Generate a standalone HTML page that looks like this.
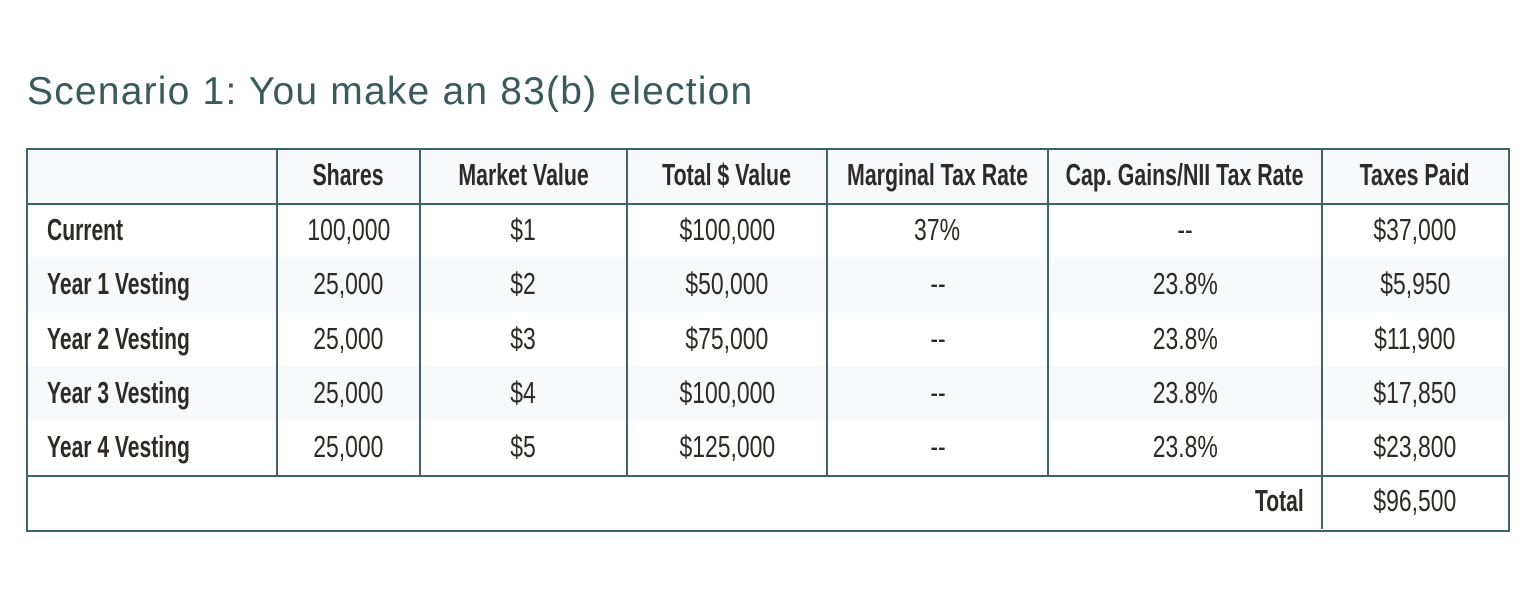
<!DOCTYPE html>
<html><head><meta charset="utf-8"><style>
body{margin:0;width:1536px;height:614px;background:#fff;position:relative;overflow:hidden;font-family:"Liberation Sans",sans-serif;color:#2e2a28}
.t{position:absolute;left:27px;top:70px;font-family:"Liberation Sans",sans-serif;font-size:39px;color:#3a5a5c;letter-spacing:1.2px;white-space:nowrap}
.c{position:absolute;text-align:center;font-size:27px;white-space:nowrap;width:400px}
.c span{display:inline-block;transform:scale(0.85,1.12)}
.b span{transform:scale(0.79,1.12)}
.b{font-weight:bold}
.l{position:absolute;font-size:27px;font-weight:bold;white-space:nowrap;transform-origin:0 50%;transform:scale(0.78,1.12)}
.v{position:absolute;top:149px;height:327px;width:2px;background:#3d6468}
</style></head><body>
<div class="t">Scenario 1: You make an 83(b) election</div>
<div style="position:absolute;left:26px;top:148px;width:1480px;height:380px;border:2px solid #3d6468"></div>
<div style="position:absolute;left:28px;top:150px;width:1478px;height:53px;background:#f7f9fa"></div>
<div style="position:absolute;left:28px;top:257px;width:1478px;height:55px;background:#f7f9fa"></div>
<div style="position:absolute;left:28px;top:366px;width:1478px;height:55px;background:#f7f9fa"></div>
<div style="position:absolute;left:27px;top:203px;width:1481px;height:2px;background:#3d6468"></div>
<div style="position:absolute;left:27px;top:475px;width:1481px;height:2px;background:#3d6468"></div>
<div class="v" style="left:276px"></div><div class="v" style="left:419px"></div><div class="v" style="left:626px"></div><div class="v" style="left:826px"></div><div class="v" style="left:1047px"></div>
<div style="position:absolute;left:1321px;top:149px;height:380px;width:2px;background:#3d6468"></div>
<div id="rows"></div>
<script>
var cols=[[277,420],[420,627],[627,827],[827,1048],[1048,1322],[1322,1508]];
var rows=[
 [176,null,["Shares","Market Value","Total $ Value","Marginal Tax Rate","Cap. Gains/NII Tax Rate","Taxes Paid"],true],
 [231,"Current",["100,000","$1","$100,000","37%","--","$37,000"]],
 [285,"Year 1 Vesting",["25,000","$2","$50,000","--","23.8%","$5,950"]],
 [340,"Year 2 Vesting",["25,000","$3","$75,000","--","23.8%","$11,900"]],
 [394,"Year 3 Vesting",["25,000","$4","$100,000","--","23.8%","$17,850"]],
 [448,"Year 4 Vesting",["25,000","$5","$125,000","--","23.8%","$23,800"]]];
var h="";
rows.forEach(function(r){
 var y=r[0]-16;
 if(r[1])h+='<div class="l" style="left:47px;top:'+y+'px">'+r[1]+'</div>';
 r[2].forEach(function(t,i){var cx=(cols[i][0]+cols[i][1])/2;h+='<div class="c'+(r[3]?' b':'')+'" style="left:'+(cx-200)+'px;top:'+y+'px"><span>'+t+'</span></div>';});
});
h+='<div class="l" style="left:1255px;top:486px">Total</div>';
h+='<div class="c" style="left:1215px;top:486px"><span>$96,500</span></div>';
document.getElementById("rows").innerHTML=h;
</script>
</body></html>
